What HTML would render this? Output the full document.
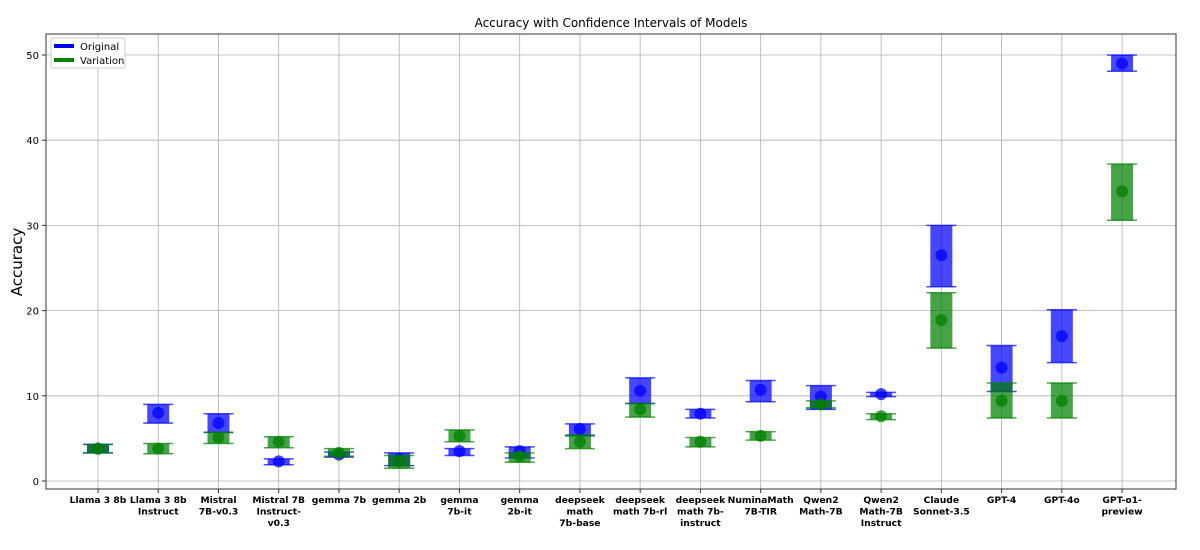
<!DOCTYPE html>
<html><head><meta charset="utf-8"><style>
body{margin:0;background:#fff;font-family:"DejaVu Sans","Liberation Sans",sans-serif}
svg text{font-family:"DejaVu Sans","Liberation Sans",sans-serif}
</style></head><body>
<svg id="chart" width="1200" height="546" xmlns="http://www.w3.org/2000/svg">
<text x="611" y="27" font-size="12" text-anchor="middle">Accuracy with Confidence Intervals of Models</text>
<text x="22" y="262" font-size="15" text-anchor="middle" transform="rotate(-90 22 262)">Accuracy</text>
<g id="grid"></g><g id="marks"></g><g id="ticks"></g>
<rect x="46" y="34" width="1130" height="455" fill="none" stroke="#333" stroke-width="1"/>
<g>
<rect x="51" y="38" width="74" height="30" fill="#fff" stroke="#ccc" rx="2"/>
<line x1="54" y1="46" x2="74" y2="46" stroke="#0000ff" stroke-width="4"/>
<text x="80" y="50" font-size="10">Original</text>
<line x1="54" y1="60" x2="74" y2="60" stroke="#008000" stroke-width="4"/>
<text x="80" y="64" font-size="10">Variation</text>
</g>
</svg>
<script>
const categories=["Llama 3 8b","Llama 3 8b|Instruct","Mistral|7B-v0.3","Mistral 7B|Instruct-|v0.3","gemma 7b","gemma 2b","gemma|7b-it","gemma|2b-it","deepseek|math|7b-base","deepseek|math 7b-rl","deepseek|math 7b-|instruct","NuminaMath|7B-TIR","Qwen2|Math-7B","Qwen2|Math-7B|Instruct","Claude|Sonnet-3.5","GPT-4","GPT-4o","GPT-o1-|preview"];
const origMean=[3.8,8.0,6.8,2.3,3.1,2.6,3.5,3.5,6.1,10.6,7.9,10.7,9.9,10.2,26.5,13.3,17.0,49.0];
const origLow=[3.3,6.8,5.7,1.9,2.8,1.8,3.0,2.7,5.3,9.1,7.4,9.3,8.4,9.9,22.8,10.5,13.9,48.1];
const origHigh=[4.3,9.0,7.9,2.6,3.4,3.3,3.8,4.0,6.7,12.1,8.4,11.8,11.2,10.4,30.0,15.9,20.1,50.0];
const varMean=[3.8,3.8,5.1,4.6,3.3,2.3,5.3,2.9,4.6,8.4,4.6,5.3,9.0,7.6,18.9,9.4,9.4,34.0];
const varLow=[3.3,3.2,4.4,3.9,2.9,1.5,4.6,2.2,3.8,7.5,4.0,4.8,8.6,7.2,15.6,7.4,7.4,30.6];
const varHigh=[4.3,4.4,5.7,5.2,3.8,3.0,6.0,3.3,5.4,9.1,5.1,5.8,9.4,7.9,22.1,11.5,11.5,37.2];
const yTicks=[0,10,20,30,40,50];
const NS="http://www.w3.org/2000/svg";
const X=i=>98+i*60.24, Y=v=>481-v*8.52;
function mk(t,a,p){const e=document.createElementNS(NS,t);for(const k in a)e.setAttribute(k,a[k]);p.appendChild(e);return e;}
const grid=document.getElementById('grid'),marks=document.getElementById('marks'),ticks=document.getElementById('ticks');
yTicks.forEach(v=>{
 const l=mk('line',{x1:46,x2:1176,y1:Y(v),y2:Y(v),stroke:'#b0b0b0','stroke-width':0.8},grid);
 
 mk('line',{x1:42,x2:46,y1:Y(v),y2:Y(v),stroke:'#333'},ticks);
 const t=mk('text',{x:39,y:Y(v)+4,'font-size':10,'text-anchor':'end'},ticks);t.textContent=v;
 
});
categories.forEach((c,i)=>{
 const x=X(i);
 const l=mk('line',{x1:x,x2:x,y1:34,y2:489,stroke:'#b0b0b0','stroke-width':0.8},grid);
 
 mk('line',{x1:x,x2:x,y1:489,y2:493,stroke:'#333'},ticks);
 c.split('|').forEach((ln,j)=>{const t=mk('text',{x:x,y:503+j*11.5,'font-size':9.2,'font-weight':'bold','text-anchor':'middle'},ticks);t.textContent=ln;
 });
});
function series(mean,low,high,col,name){
 mean.forEach((m,i)=>{
  const x=X(i),g=mk('g',{},marks);
  
  mk('rect',{x:x-11,y:Y(high[i]),width:22,height:Y(low[i])-Y(high[i]),fill:col,'fill-opacity':0.72},g);
  [low[i],high[i]].forEach(v=>mk('line',{x1:x-15,x2:x+15,y1:Y(v),y2:Y(v),stroke:col,'stroke-opacity':0.7,'stroke-width':1.5},g));
  mk('circle',{cx:x,cy:Y(m),r:6,fill:col,'fill-opacity':0.75},g);
 });
}
series(origMean,origLow,origHigh,'#0000ff','original');
series(varMean,varLow,varHigh,'#008000','variation');
</script>
</body></html>
